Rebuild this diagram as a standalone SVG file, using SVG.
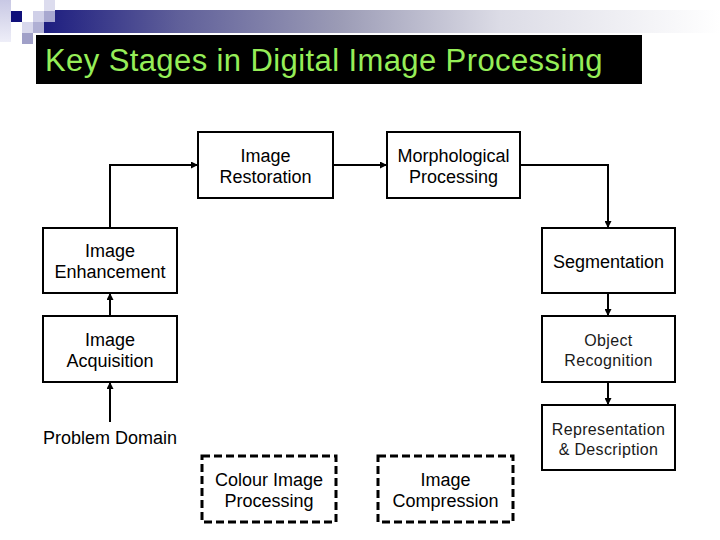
<svg xmlns="http://www.w3.org/2000/svg" width="720" height="540" viewBox="0 0 720 540">
<defs>
<linearGradient id="band" gradientUnits="userSpaceOnUse" x1="44" y1="0" x2="720" y2="0">
<stop offset="0" stop-color="#1e1e80"/>
<stop offset="0.2" stop-color="#60609a"/>
<stop offset="0.44" stop-color="#9c9cb6"/>
<stop offset="0.675" stop-color="#dcdce6"/>
<stop offset="1" stop-color="#ffffff"/>
</linearGradient>
<linearGradient id="col" x1="0" y1="0" x2="0" y2="1">
<stop offset="0" stop-color="#c8c8e4"/>
<stop offset="1" stop-color="#eeeef8"/>
</linearGradient>
<marker id="arr" viewBox="0 0 10 10" refX="10" refY="5" markerWidth="7" markerHeight="7" markerUnits="userSpaceOnUse" orient="auto">
<path d="M0,0 L10,5 L0,10 z" fill="#000"/>
</marker>
<style>
.box{fill:#fff;stroke:#000;stroke-width:2}
.dash{fill:#fff;stroke:#000;stroke-width:3;stroke-dasharray:8 4}
.t{font-family:"Liberation Sans",Arial,sans-serif;font-size:18px;fill:#000;text-anchor:middle}
.l{font-family:"Liberation Sans",Arial,sans-serif;font-size:16px;fill:#1a1a1a;text-anchor:middle;letter-spacing:0.35px}
.c{fill:none;stroke:#000;stroke-width:2;marker-end:url(#arr)}
</style>
</defs>
<rect width="720" height="540" fill="#fff"/>
<g id="decoration">
<rect x="44" y="10" width="676" height="23" fill="url(#band)"/>
<rect x="0" y="0" width="11" height="42" fill="url(#col)"/>
<rect x="11" y="11" width="11" height="11" fill="#10107a"/>
<rect x="33" y="11" width="11" height="11" fill="#d0d0e8"/>
<rect x="44" y="0" width="11" height="11" fill="#dcdcee"/>
<rect x="44" y="11" width="11" height="11" fill="#a8a8d0"/>
<rect x="22" y="22" width="11" height="11" fill="#d8d8ec"/>
<rect x="33" y="22" width="11" height="11" fill="#b0b0d4"/>
<rect x="22" y="33" width="11" height="11" fill="#a0a0c8"/>
</g>
<g id="title">
<rect x="36" y="35" width="606" height="49" fill="#000"/>
<text x="45" y="71" font-family="Liberation Sans, Arial, sans-serif" font-size="31" letter-spacing="0.4" fill="#96ee58">Key Stages in Digital Image Processing</text>
</g>
<g id="connectors">
<path class="c" d="M110,228 V165 H198"/>
<path class="c" d="M333,165 H387"/>
<path class="c" d="M520,165 H608 V228"/>
<path class="c" d="M608,293 V316"/>
<path class="c" d="M608,382 V405"/>
<path class="c" d="M110,316 V293"/>
<path class="c" d="M110,422 V382"/>
</g>
<g id="restoration">
<rect class="box" x="198" y="132" width="135" height="66"/>
<text class="t" x="265.5" y="161.5">Image</text>
<text class="t" x="265.5" y="182.5">Restoration</text>
</g>
<g id="morphological">
<rect class="box" x="387" y="132" width="133" height="66"/>
<text class="t" x="453.5" y="161.5">Morphological</text>
<text class="t" x="453.5" y="182.5">Processing</text>
</g>
<g id="enhancement">
<rect class="box" x="43" y="228" width="134" height="65"/>
<text class="t" x="110" y="256.5">Image</text>
<text class="t" x="110" y="277.5">Enhancement</text>
</g>
<g id="segmentation">
<rect class="box" x="542" y="228" width="133" height="65"/>
<text class="t" x="608.5" y="267.5">Segmentation</text>
</g>
<g id="acquisition">
<rect class="box" x="43" y="316" width="134" height="66"/>
<text class="t" x="110" y="345.5">Image</text>
<text class="t" x="110" y="366.5">Acquisition</text>
</g>
<g id="object-recognition">
<rect class="box" x="542" y="316" width="133" height="66"/>
<text class="l" x="608.5" y="345.5">Object</text>
<text class="l" x="608.5" y="365.5">Recognition</text>
</g>
<g id="representation">
<rect class="box" x="542" y="405" width="133" height="65"/>
<text class="l" x="608.5" y="434.5">Representation</text>
<text class="l" x="608.5" y="454.5">&amp; Description</text>
</g>
<g id="problem-domain">
<text class="t" x="110" y="443.5">Problem Domain</text>
</g>
<g id="colour">
<rect class="dash" x="202" y="456" width="134" height="66"/>
<text class="t" x="269" y="485.5">Colour Image</text>
<text class="t" x="269" y="506.5">Processing</text>
</g>
<g id="compression">
<rect class="dash" x="378" y="456" width="135" height="66"/>
<text class="t" x="445.5" y="485.5">Image</text>
<text class="t" x="445.5" y="506.5">Compression</text>
</g>
</svg>
